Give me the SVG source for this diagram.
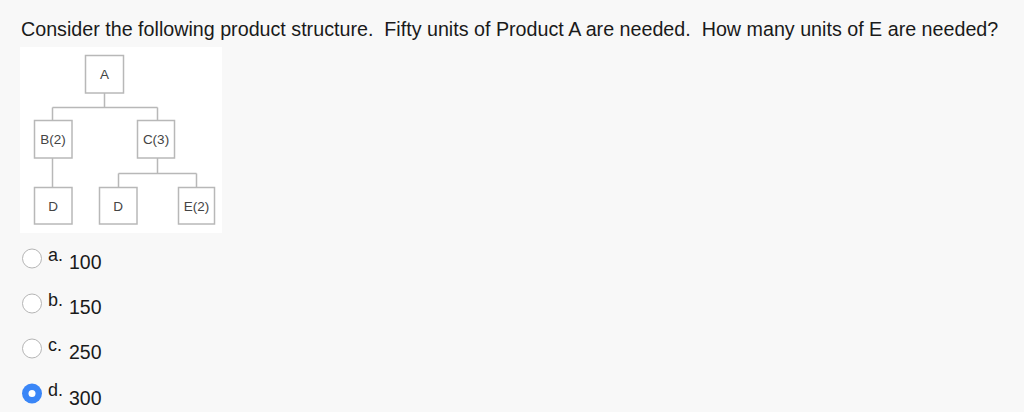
<svg xmlns="http://www.w3.org/2000/svg" width="1024" height="412" viewBox="0 0 1024 412">
<style>
.q{font-family:"Liberation Sans",Arial,sans-serif;font-size:19.7px;fill:#1a1a1a;white-space:pre}
.box{fill:#fff;stroke:#b8b8b8;stroke-width:1.5}
.lbl{font-family:"Liberation Sans",Arial,sans-serif;font-size:13.5px;fill:#444;text-anchor:middle}
.con{stroke:#b8b8b8;stroke-width:1.5;fill:none}
.opt{font-family:"Liberation Sans",Arial,sans-serif;font-size:18px;fill:#1a1a1a}
.val{font-family:"Liberation Sans",Arial,sans-serif;font-size:19.5px;fill:#1a1a1a}
.radio{fill:#fff;stroke:#b5b5b5;stroke-width:1}
</style>
<rect width="1024" height="412" fill="#f8f8f8"/>
<text class="q" x="21" y="36" xml:space="preserve">Consider the following product structure.  Fifty units of Product A are needed.  How many units of E are needed?</text>
<rect x="20" y="47" width="202" height="186" fill="#fff"/>
<g id="connectors">
<path class="con" d="M104.5 93V107.5M52.5 107.5H157.5M52.5 107.5V120M157.5 107.5V120"/>
<path class="con" d="M52.5 158V187"/>
<path class="con" d="M157.5 158V173.5M118.5 173.5H196.5M118.5 173.5V187M196.5 173.5V187"/>
</g>
<g id="node-A"><rect class="box" x="85.5" y="55.5" width="38" height="37.5"/><text class="lbl" x="104.5" y="79">A</text></g>
<g id="node-B"><rect class="box" x="34.5" y="120.5" width="37.5" height="37.5"/><text class="lbl" x="53" y="144">B(2)</text></g>
<g id="node-C"><rect class="box" x="137.5" y="120.5" width="37" height="37.5"/><text class="lbl" x="156" y="144">C(3)</text></g>
<g id="node-D1"><rect class="box" x="34.5" y="187.5" width="37.5" height="36.5"/><text class="lbl" x="53" y="210.5">D</text></g>
<g id="node-D2"><rect class="box" x="99.5" y="187.5" width="37.5" height="36.5"/><text class="lbl" x="118" y="210.5">D</text></g>
<g id="node-E"><rect class="box" x="178.5" y="187.5" width="36" height="36.5"/><text class="lbl" x="196.5" y="210.5">E(2)</text></g>
<g id="option-a"><circle class="radio" cx="32" cy="258.5" r="9.5"/><text class="opt" x="48" y="261">a.</text><text class="val" x="69" y="269">100</text></g>
<g id="option-b"><circle class="radio" cx="32" cy="303.5" r="9.5"/><text class="opt" x="48" y="306">b.</text><text class="val" x="69" y="314">150</text></g>
<g id="option-c"><circle class="radio" cx="32" cy="348.5" r="9.5"/><text class="opt" x="48" y="351">c.</text><text class="val" x="69" y="359">250</text></g>
<g id="option-d"><circle cx="32" cy="393.5" r="10" fill="#3a86f7"/><circle cx="32" cy="393.5" r="3.5" fill="#fff"/><text class="opt" x="48" y="396">d.</text><text class="val" x="69" y="405">300</text></g>
</svg>
